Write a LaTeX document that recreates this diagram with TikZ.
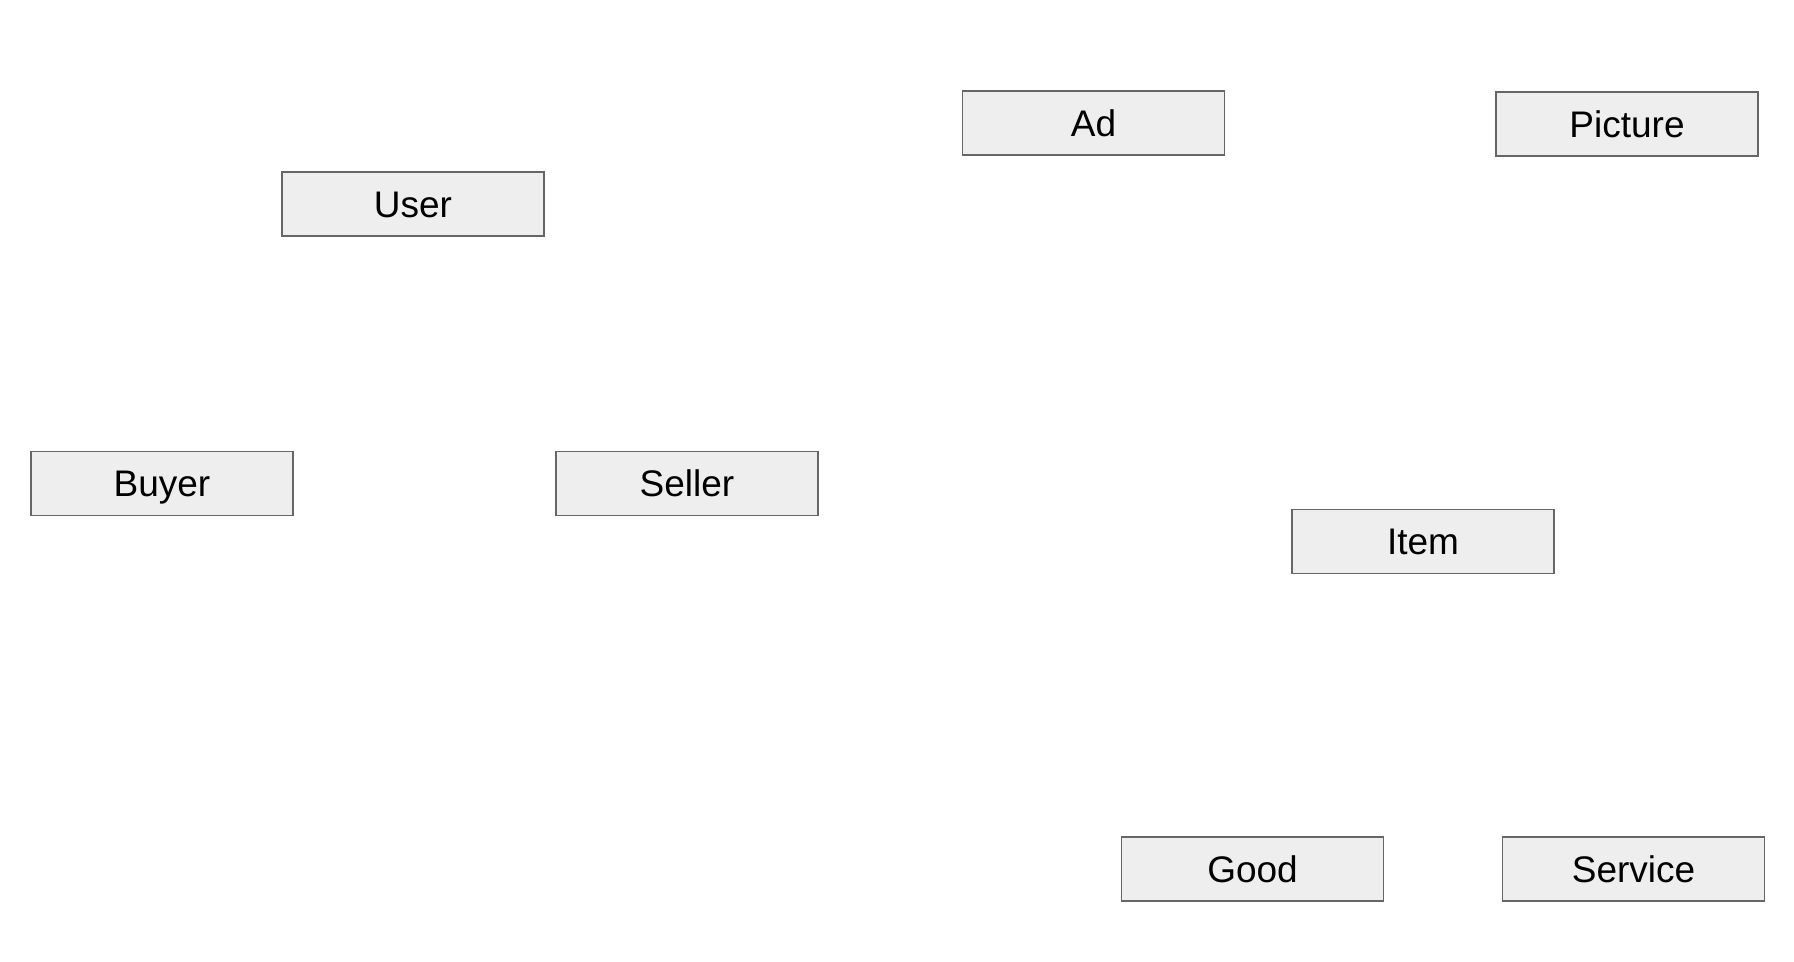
\documentclass[tikz,border=0pt]{standalone}
\usepackage{fontspec}
\setmainfont{Liberation Sans}
\usepackage{xcolor}
\usepackage{tikz}
\usetikzlibrary{positioning}
\definecolor{boxfill}{HTML}{EEEEEE}
\definecolor{boxline}{HTML}{666666}

\begin{document}
\begin{tikzpicture}[x=0.5pt,y=-0.5pt,
  entity/.style = {draw=boxline,line width=0.7pt,fill=boxfill,
  minimum width=131pt,minimum height=32pt,inner sep=0pt,
  text height=13.25pt,text depth=0pt,
  font=\fontsize{18.5}{22}\selectfont,align=center}]
 \useasboundingbox (0,0) rectangle (1794,962);
 \node[entity] (user)    at (413,204)     {User};
 \node[entity] (ad)      at (1093.5,123)  {Ad};
 \node[entity] (picture) at (1627,124)    {Picture};
 \node[entity] (buyer)   at (162,483.5)   {Buyer};
 \node[entity] (seller)  at (687,483.5)   {Seller};
 \node[entity] (item)    at (1423,541.5)  {Item};
 \node[entity] (good)    at (1252.5,869)  {Good};
 \node[entity] (service) at (1633.5,869)  {Service};
\end{tikzpicture}
\end{document}
